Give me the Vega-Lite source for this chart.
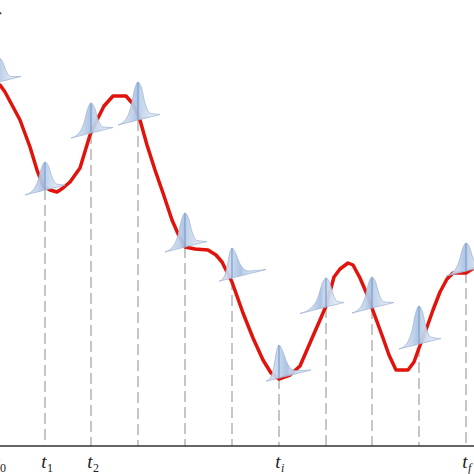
{
  "$schema": "https://vega.github.io/schema/vega-lite/v6.json",
  "autosize": {"type": "fit", "contains": "padding"},
  "width": 474,
  "height": 474,
  "padding": 0,
  "background": "white",
  "config": {"view": {"stroke": null}},
  "datasets": {
    "path": [
      {"x": 0, "y": 85}, {"x": 5, "y": 92}, {"x": 12, "y": 105}, {"x": 20, "y": 120}, {"x": 30, "y": 147},
      {"x": 37, "y": 170}, {"x": 43, "y": 186}, {"x": 50, "y": 190}, {"x": 57, "y": 192}, {"x": 63, "y": 188},
      {"x": 70, "y": 182}, {"x": 80, "y": 168}, {"x": 90, "y": 135}, {"x": 97, "y": 120}, {"x": 104, "y": 106},
      {"x": 113, "y": 96}, {"x": 126, "y": 96}, {"x": 133, "y": 104}, {"x": 140, "y": 120}, {"x": 147, "y": 145},
      {"x": 155, "y": 170}, {"x": 163, "y": 193}, {"x": 172, "y": 220}, {"x": 179, "y": 236}, {"x": 185, "y": 247},
      {"x": 195, "y": 249}, {"x": 208, "y": 250}, {"x": 216, "y": 255}, {"x": 222, "y": 262}, {"x": 232, "y": 282},
      {"x": 243, "y": 313}, {"x": 253, "y": 338}, {"x": 263, "y": 360}, {"x": 271, "y": 373}, {"x": 279, "y": 379},
      {"x": 290, "y": 375}, {"x": 300, "y": 366}, {"x": 313, "y": 336}, {"x": 320, "y": 320}, {"x": 326, "y": 306},
      {"x": 334, "y": 277}, {"x": 340, "y": 269}, {"x": 348, "y": 263}, {"x": 353, "y": 265}, {"x": 360, "y": 278},
      {"x": 366, "y": 292}, {"x": 372, "y": 308}, {"x": 383, "y": 338}, {"x": 389, "y": 355}, {"x": 396, "y": 370},
      {"x": 408, "y": 370}, {"x": 414, "y": 362}, {"x": 419, "y": 348}, {"x": 427, "y": 327}, {"x": 433, "y": 310},
      {"x": 440, "y": 292}, {"x": 447, "y": 279}, {"x": 453, "y": 273}, {"x": 466, "y": 273}, {"x": 474, "y": 268}
    ],
    "drops": [
      {"x": 45, "y": 189}, {"x": 91, "y": 133}, {"x": 138, "y": 120}, {"x": 185, "y": 247}, {"x": 232, "y": 279},
      {"x": 279, "y": 378}, {"x": 326, "y": 307}, {"x": 372, "y": 308}, {"x": 419, "y": 346}, {"x": 466, "y": 272}
    ],
    "stems": [
      {"x": -1, "top": 58, "base": 82}, {"x": 45, "top": 162, "base": 190}, {"x": 91, "top": 103, "base": 133},
      {"x": 138, "top": 82, "base": 120}, {"x": 185, "top": 213, "base": 247}, {"x": 232, "top": 248, "base": 278},
      {"x": 279, "top": 345, "base": 378}, {"x": 326, "top": 278, "base": 307}, {"x": 372, "top": 277, "base": 308},
      {"x": 419, "top": 306, "base": 344}, {"x": 466, "top": 243, "base": 271}
    ],
    "bells": [
      {"bell": 0, "x": -21, "top": 87, "base": 87}, {"bell": 0, "x": -13, "top": 82.6, "base": 85}, {"bell": 0, "x": -8, "top": 74.2, "base": 83.8},
      {"bell": 0, "x": -4.5, "top": 63.2, "base": 82.9}, {"bell": 0, "x": -1, "top": 58, "base": 82}, {"bell": 0, "x": 2.5, "top": 61.4, "base": 81.1},
      {"bell": 0, "x": 6, "top": 70.7, "base": 80.3}, {"bell": 0, "x": 11, "top": 76.6, "base": 79}, {"bell": 0, "x": 21, "top": 76.5, "base": 76.5},

      {"bell": 1, "x": 25, "top": 195, "base": 195}, {"bell": 1, "x": 33, "top": 190.2, "base": 193}, {"bell": 1, "x": 38, "top": 180.6, "base": 191.8},
      {"bell": 1, "x": 41.5, "top": 167.9, "base": 190.9}, {"bell": 1, "x": 45, "top": 162, "base": 190}, {"bell": 1, "x": 48.5, "top": 166.1, "base": 189.1},
      {"bell": 1, "x": 52, "top": 177.1, "base": 188.3}, {"bell": 1, "x": 57, "top": 184.2, "base": 187}, {"bell": 1, "x": 65, "top": 185, "base": 185},

      {"bell": 2, "x": 71, "top": 138, "base": 138}, {"bell": 2, "x": 79, "top": 133, "base": 136}, {"bell": 2, "x": 84, "top": 122.8, "base": 134.8},
      {"bell": 2, "x": 87.5, "top": 109.3, "base": 133.9}, {"bell": 2, "x": 91, "top": 103, "base": 133}, {"bell": 2, "x": 94.5, "top": 107.5, "base": 132.1},
      {"bell": 2, "x": 98, "top": 119.3, "base": 131.3}, {"bell": 2, "x": 103, "top": 127, "base": 130}, {"bell": 2, "x": 113, "top": 127.5, "base": 127.5},

      {"bell": 3, "x": 118, "top": 125, "base": 125}, {"bell": 3, "x": 126, "top": 119.2, "base": 123}, {"bell": 3, "x": 131, "top": 106.6, "base": 121.8},
      {"bell": 3, "x": 134.5, "top": 89.7, "base": 120.9}, {"bell": 3, "x": 138, "top": 82, "base": 120}, {"bell": 3, "x": 141.5, "top": 87.9, "base": 119.1},
      {"bell": 3, "x": 145, "top": 103.1, "base": 118.3}, {"bell": 3, "x": 150, "top": 113.2, "base": 117}, {"bell": 3, "x": 160, "top": 114.5, "base": 114.5},

      {"bell": 4, "x": 165, "top": 252, "base": 252}, {"bell": 4, "x": 173, "top": 246.6, "base": 250}, {"bell": 4, "x": 178, "top": 235.2, "base": 248.8},
      {"bell": 4, "x": 181.5, "top": 220, "base": 247.9}, {"bell": 4, "x": 185, "top": 213, "base": 247}, {"bell": 4, "x": 188.5, "top": 218.2, "base": 246.1},
      {"bell": 4, "x": 192, "top": 231.7, "base": 245.3}, {"bell": 4, "x": 197, "top": 240.6, "base": 244}, {"bell": 4, "x": 207, "top": 241.5, "base": 241.5},

      {"bell": 5, "x": 219, "top": 281.3, "base": 281.3}, {"bell": 5, "x": 224, "top": 277, "base": 280}, {"bell": 5, "x": 227, "top": 267.3, "base": 279.3},
      {"bell": 5, "x": 229.5, "top": 254, "base": 278.6}, {"bell": 5, "x": 232, "top": 248, "base": 278}, {"bell": 5, "x": 235.5, "top": 253.1, "base": 277.1},
      {"bell": 5, "x": 240, "top": 264, "base": 276}, {"bell": 5, "x": 248, "top": 271, "base": 274}, {"bell": 5, "x": 266, "top": 269.5, "base": 269.5},

      {"bell": 6, "x": 266, "top": 381.3, "base": 381.3}, {"bell": 6, "x": 271, "top": 376.7, "base": 380}, {"bell": 6, "x": 274, "top": 366.1, "base": 379.3},
      {"bell": 6, "x": 276.5, "top": 351.5, "base": 378.6}, {"bell": 6, "x": 279, "top": 345, "base": 378}, {"bell": 6, "x": 282.5, "top": 350.7, "base": 377.1},
      {"bell": 6, "x": 287, "top": 362.8, "base": 376}, {"bell": 6, "x": 295, "top": 370.7, "base": 374}, {"bell": 6, "x": 311, "top": 370, "base": 370},

      {"bell": 7, "x": 300, "top": 313.5, "base": 313.5}, {"bell": 7, "x": 311, "top": 307.9, "base": 310.8}, {"bell": 7, "x": 318, "top": 297.4, "base": 309},
      {"bell": 7, "x": 322, "top": 284.2, "base": 308}, {"bell": 7, "x": 326, "top": 278, "base": 307}, {"bell": 7, "x": 329.5, "top": 282.3, "base": 306.1},
      {"bell": 7, "x": 333, "top": 293.7, "base": 305.3}, {"bell": 7, "x": 337, "top": 301.4, "base": 304.3}, {"bell": 7, "x": 344, "top": 302.5, "base": 302.5},

      {"bell": 8, "x": 352, "top": 313, "base": 313}, {"bell": 8, "x": 360, "top": 307.9, "base": 311}, {"bell": 8, "x": 365, "top": 297.4, "base": 309.8},
      {"bell": 8, "x": 368.5, "top": 283.5, "base": 308.9}, {"bell": 8, "x": 372, "top": 277, "base": 308}, {"bell": 8, "x": 375.5, "top": 281.7, "base": 307.1},
      {"bell": 8, "x": 379, "top": 293.9, "base": 306.3}, {"bell": 8, "x": 384, "top": 301.9, "base": 305}, {"bell": 8, "x": 394, "top": 302.5, "base": 302.5},

      {"bell": 9, "x": 399, "top": 349, "base": 349}, {"bell": 9, "x": 407, "top": 343.2, "base": 347}, {"bell": 9, "x": 412, "top": 330.6, "base": 345.8},
      {"bell": 9, "x": 415.5, "top": 313.7, "base": 344.9}, {"bell": 9, "x": 419, "top": 306, "base": 344}, {"bell": 9, "x": 422.5, "top": 311.9, "base": 343.1},
      {"bell": 9, "x": 426, "top": 327.1, "base": 342.3}, {"bell": 9, "x": 431, "top": 337.2, "base": 341}, {"bell": 9, "x": 441, "top": 338.5, "base": 338.5},

      {"bell": 10, "x": 446, "top": 276, "base": 276}, {"bell": 10, "x": 454, "top": 271.2, "base": 274}, {"bell": 10, "x": 459, "top": 261.6, "base": 272.8},
      {"bell": 10, "x": 462.5, "top": 248.9, "base": 271.9}, {"bell": 10, "x": 466, "top": 243, "base": 271}, {"bell": 10, "x": 469.5, "top": 247.1, "base": 270.1},
      {"bell": 10, "x": 473, "top": 258.1, "base": 269.3}, {"bell": 10, "x": 478, "top": 265.2, "base": 268}, {"bell": 10, "x": 488, "top": 265.5, "base": 265.5}
    ],
    "labels": [
      {"x": -2, "sub": "0"}, {"x": 45, "sub": "1"}, {"x": 91, "sub": "2"}, {"x": 279, "sub": "i"}, {"x": 466, "sub": "f"}
    ]
  },
  "layer": [
    {
      "data": {"name": "drops"},
      "mark": {"type": "rule", "color": "#a8a8a8", "strokeWidth": 1.3, "strokeDash": [11, 5], "clip": true},
      "encoding": {
        "x": {"field": "x", "type": "quantitative", "scale": {"domain": [0, 474], "nice": false, "zero": false}, "axis": null},
        "y": {"field": "y", "type": "quantitative", "scale": {"domain": [0, 474], "nice": false, "zero": false, "reverse": true}, "axis": null},
        "y2": {"datum": 446}
      }
    },
    {
      "data": {"name": "path"},
      "mark": {"type": "line", "color": "#e0140c", "strokeWidth": 3.5, "strokeJoin": "round", "strokeCap": "round", "clip": true},
      "encoding": {
        "x": {"field": "x", "type": "quantitative"},
        "y": {"field": "y", "type": "quantitative"}
      }
    },
    {
      "data": {"name": "bells"},
      "mark": {
        "type": "area",
        "interpolate": "monotone",
        "clip": true,
        "fillOpacity": 0.93,
        "stroke": "#a3b8d6",
        "strokeWidth": 0.8,
        "fill": {
          "gradient": "linear", "x1": 0, "y1": 0, "x2": 1, "y2": 0,
          "stops": [
            {"offset": 0, "color": "#dbe5f2"},
            {"offset": 0.3, "color": "#c2d3ea"},
            {"offset": 0.47, "color": "#a6bfe2"},
            {"offset": 0.52, "color": "#bccfe8"},
            {"offset": 0.75, "color": "#d8e3f2"},
            {"offset": 1, "color": "#eef3f9"}
          ]
        }
      },
      "encoding": {
        "x": {"field": "x", "type": "quantitative"},
        "y": {"field": "top", "type": "quantitative"},
        "y2": {"field": "base"},
        "detail": {"field": "bell", "type": "nominal"}
      }
    },
    {
      "data": {"name": "stems"},
      "mark": {"type": "rule", "color": "#86a6d2", "strokeWidth": 1.4, "clip": true},
      "encoding": {
        "x": {"field": "x", "type": "quantitative"},
        "y": {"field": "top", "type": "quantitative"},
        "y2": {"field": "base"}
      }
    },
    {
      "data": {"values": [{}]},
      "mark": {"type": "rule", "color": "#333333", "strokeWidth": 1.6, "clip": true},
      "encoding": {"y": {"datum": 446}}
    },
    {
      "data": {"values": [{}]},
      "mark": {"type": "point", "shape": "triangle-up", "filled": true, "color": "#333333", "size": 30, "opacity": 1, "clip": true},
      "encoding": {"x": {"datum": -1}, "y": {"datum": 12}}
    },
    {
      "data": {"name": "labels"},
      "mark": {"type": "text", "text": "t", "font": "Liberation Serif", "fontStyle": "italic", "fontSize": 19, "align": "center", "baseline": "alphabetic", "dx": -1, "color": "#222222", "clip": true},
      "encoding": {
        "x": {"field": "x", "type": "quantitative"},
        "y": {"datum": 468}
      }
    },
    {
      "data": {"name": "labels"},
      "transform": [{"filter": "datum.sub != 'i' && datum.sub != 'f'"}],
      "mark": {"type": "text", "font": "Liberation Serif", "fontSize": 12, "align": "left", "baseline": "alphabetic", "dx": 2, "color": "#222222", "clip": true},
      "encoding": {
        "x": {"field": "x", "type": "quantitative"},
        "y": {"datum": 472},
        "text": {"field": "sub"}
      }
    },
    {
      "data": {"name": "labels"},
      "transform": [{"filter": "datum.sub == 'i' || datum.sub == 'f'"}],
      "mark": {"type": "text", "font": "Liberation Serif", "fontStyle": "italic", "fontSize": 12, "align": "left", "baseline": "alphabetic", "dx": 2, "color": "#222222", "clip": true},
      "encoding": {
        "x": {"field": "x", "type": "quantitative"},
        "y": {"datum": 472},
        "text": {"field": "sub"}
      }
    }
  ]
}
